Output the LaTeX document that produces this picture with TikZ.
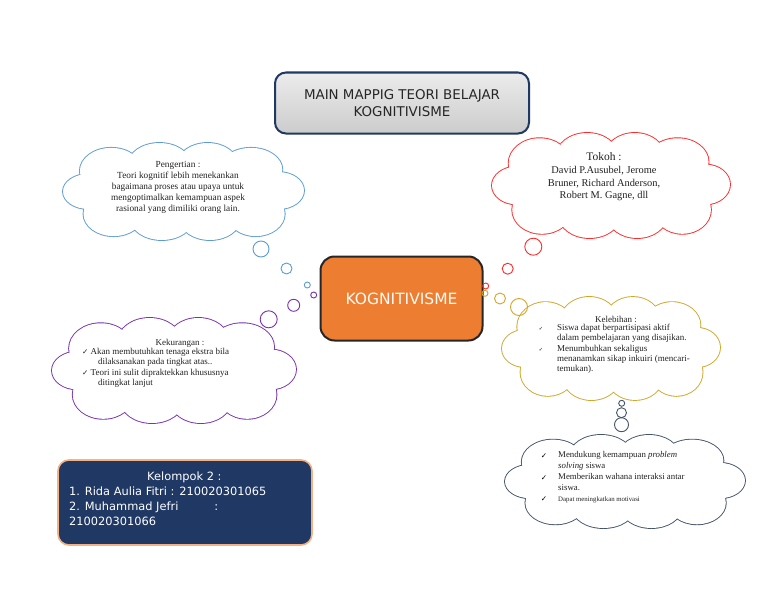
\documentclass[tikz,border=0pt]{standalone}
\usepackage{fontspec}
\setmainfont{Liberation Serif}
\newfontfamily\dvs{DejaVu Sans}
\definecolor{cblue}{HTML}{5B9BD5}
\definecolor{cred}{HTML}{FF2A2A}
\definecolor{cpurple}{HTML}{7A30B0}
\definecolor{cgold}{HTML}{D4A52A}
\definecolor{cslate}{HTML}{44546A}
\definecolor{corange}{HTML}{ED7D31}
\definecolor{cnavy}{HTML}{1F3864}
\definecolor{cpeach}{HTML}{F4B183}
\definecolor{ctxt}{HTML}{222222}
\newcommand{\ck}{{\dvs\fontsize{7.5}{8}\selectfont ✓}}
\newcommand{\cks}{{\dvs\fontsize{5}{6}\selectfont ✓}}
\newcommand{\cloudpath}{
  (-0.79,0.00) ellipse [x radius=0.21, y radius=0.36]
  (-0.60,-0.42) ellipse [x radius=0.26, y radius=0.48]
  (-0.20,-0.55) ellipse [x radius=0.26, y radius=0.45]
  (0.20,-0.56) ellipse [x radius=0.25, y radius=0.44]
  (0.56,-0.45) ellipse [x radius=0.26, y radius=0.45]
  (0.79,-0.02) ellipse [x radius=0.21, y radius=0.38]
  (0.60,0.46) ellipse [x radius=0.24, y radius=0.46]
  (0.22,0.57) ellipse [x radius=0.25, y radius=0.43]
  (-0.18,0.56) ellipse [x radius=0.26, y radius=0.44]
  (-0.58,0.46) ellipse [x radius=0.25, y radius=0.46]
  (0,0) ellipse [x radius=0.78, y radius=0.62]}
% #1 colour, #2 centre x, #3 centre y, #4 width, #5 height
\newcommand{\drawcloud}[5]{%
  \begin{scope}[shift={(#2,#3)}, x=#4pt/2, y=-#5pt/2]
    \draw[#1, line width=1.8pt] \cloudpath;
    \fill[white] \cloudpath;
  \end{scope}}
\tikzset{
  bub/.style={circle, draw, line width=0.9pt, inner sep=0pt},
  ctext/.style={align=center, text=ctxt, font=\fontsize{9.3}{11}\selectfont},
  ltext/.style={align=left, text=ctxt, font=\fontsize{9}{10.3}\selectfont, inner sep=0pt},
}
\begin{document}
\begin{tikzpicture}[x=1pt,y=-1pt]
\useasboundingbox (0,0) rectangle (768,594);
\fill[white] (0,0) rectangle (768,594);

% clouds
\drawcloud{cblue}{183.5}{191.5}{241}{97}
\drawcloud{cred}{611}{185.5}{238}{105}
\drawcloud{cpurple}{174}{370.5}{244}{105}
\drawcloud{cgold}{611}{348.5}{218}{103}
\drawcloud{cslate}{625}{481.5}{240}{93}

% title
\node[draw=cnavy, line width=2pt, rounded corners=11pt, top color=gray!15, bottom color=gray!40,
      minimum width=254pt, minimum height=61pt, align=center,
      font=\dvs\fontsize{13.4}{16.5}\selectfont, text=black!85] (title) at (402,103)
  {MAIN MAPPIG TEORI BELAJAR\\KOGNITIVISME};

% center
\node[draw=black!85, line width=2pt, rounded corners=14pt, fill=corange,
      minimum width=162pt, minimum height=84pt, font=\dvs\fontsize{15.5}{17}\selectfont, text=white!97!orange] (center) at (401.5,298.5)
  {KOGNITIVISME};

% Pengertian (blue)
\node[ctext] (t1) at (178,187) {Pengertian :\\Teori kognitif lebih menekankan\\bagaimana proses atau upaya untuk\\mengoptimalkan kemampuan aspek\\rasional yang dimiliki orang lain.};
\node[bub, draw=cblue, minimum size=16pt] (b11) at (261,249) {};
\node[bub, draw=cblue, minimum size=11pt] (b12) at (286.5,268.5) {};
\node[bub, draw=cblue, minimum size=6pt] (b13) at (307.3,285) {};

% Tokoh (red)
\node[align=center, text=ctxt, font=\fontsize{10.4}{12.6}\selectfont] (t2) at (604,177)
  {{\fontsize{11.5}{13}\selectfont Tokoh :}\\David P.Ausubel, Jerome\\Bruner, Richard Anderson,\\Robert M. Gagne, dll};
\node[bub, draw=cred, minimum size=17pt] (b21) at (533.3,246.7) {};
\node[bub, draw=cred, minimum size=11pt] (b22) at (507.7,268.7) {};
\node[bub, draw=cred, minimum size=6pt] (b23) at (485.7,286) {};

% Kekurangan (purple)
\node[bub, draw=cpurple, minimum size=17pt] (b31) at (268.7,319.3) {};
\node[bub, draw=cpurple, minimum size=12pt] (b32) at (293.7,305.3) {};
\node[bub, draw=cpurple, minimum size=6pt] (b33) at (313.7,295) {};
\node[ctext, font=\fontsize{9}{10}\selectfont] (t3h) at (180,343) {Kekurangan :};
\node[ltext, anchor=north west] (t3) at (82,348)
  {\ck\ Akan membutuhkan tenaga ekstra bila\\
   \hspace*{16pt}dilaksanakan pada tingkat atas..\\
   \ck\ Teori ini sulit dipraktekkan khususnya\\
   \hspace*{16pt}ditingkat lanjut};

% Kelebihan (gold)
\node[bub, draw=cgold, minimum size=17pt] (b41) at (519,307) {};
\node[bub, draw=cgold, minimum size=11pt] (b42) at (500,298.5) {};
\node[bub, draw=cgold, minimum size=6pt] (b43) at (485,293.3) {};
\node[ctext, font=\fontsize{9}{10}\selectfont] (t4h) at (616,319) {Kelebihan :};
\node[ltext, anchor=north west] (t4) at (557,324)
  {Siswa dapat berpartisipasi aktif\\
   dalam pembelajaran yang disajikan.\\
   Menumbuhkan sekaligus\\
   menanamkan sikap inkuiri (mencari-\\
   temukan).};
\node[inner sep=0pt] (k41) at (541,329) {\cks};
\node[inner sep=0pt] (k42) at (541,349.5) {\cks};

% lower (slate)
\node[bub, draw=cslate, minimum size=14pt] (b51) at (621.5,424.7) {};
\node[bub, draw=cslate, minimum size=10pt] (b52) at (621.5,412.7) {};
\node[bub, draw=cslate, minimum size=6pt] (b53) at (621.7,403.3) {};
\node[ltext, anchor=north west, font=\fontsize{8.8}{11}\selectfont] (t5) at (558,451.5)
  {Mendukung kemampuan \textit{problem}\\
   \textit{solving} siswa\\
   Memberikan wahana interaksi antar\\
   siswa.\\
   {\fontsize{6.8}{8}\selectfont Dapat meningkatkan motivasi}};
\node[inner sep=0pt] (k51) at (544,456.5) {\ck};
\node[inner sep=0pt] (k52) at (544,478.5) {\ck};
\node[inner sep=0pt] (k53) at (544,499.5) {\ck};

% Kelompok
\node[draw=cpeach, line width=1.6pt, rounded corners=11pt, fill=cnavy,
      minimum width=254pt, minimum height=85pt] (grp) at (185,502.5) {};
\node[align=left, text=white, font=\dvs\fontsize{11.4}{15}\selectfont, anchor=north west, inner sep=0pt] (grpt) at (69,472)
  {\hspace*{78pt}Kelompok 2 :\\
   1. Rida Aulia Fitri\ : 210020301065\\
   2. Muhammad Jefri\hspace*{36pt}:\\
   210020301066};
\end{tikzpicture}
\end{document}
